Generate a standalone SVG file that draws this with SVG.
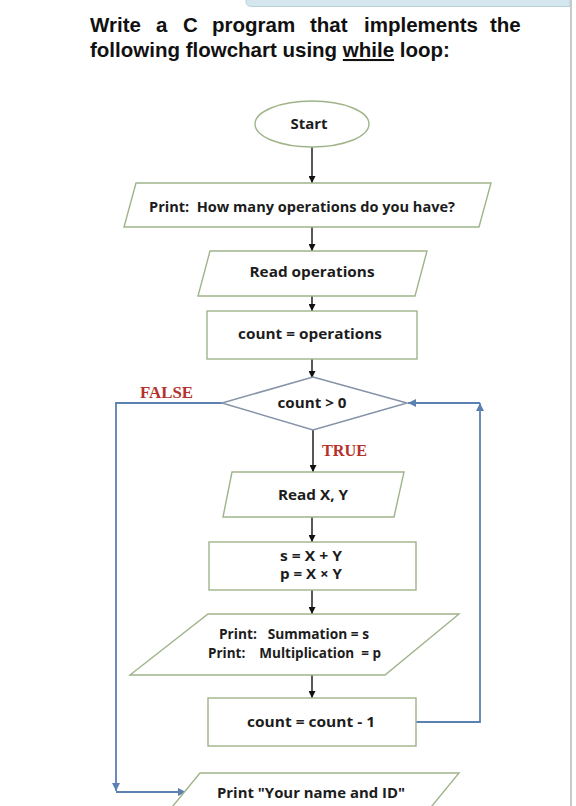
<svg xmlns="http://www.w3.org/2000/svg" width="576" height="806" viewBox="0 0 576 806">
<style>
.node{fill:#ffffff;stroke:#9fb48a;stroke-width:1.4}
.dia{fill:#ffffff;stroke:#8493a8;stroke-width:1.5}
.t{font-family:"Open Sans","Noto Sans",sans-serif;font-weight:700;font-size:15px;fill:#1c1c1c;text-anchor:middle;white-space:pre}
.tl{font-family:"Open Sans","Noto Sans",sans-serif;font-weight:700;font-size:15px;fill:#1c1c1c;white-space:pre}
.lab{font-family:"Liberation Serif","DejaVu Serif",serif;font-weight:bold;font-size:17px;fill:#b5312c}
.title{font-family:"Liberation Sans",Arial,sans-serif;font-weight:bold;font-size:20.5px;fill:#111}
.blk{stroke:#111;stroke-width:1.4;fill:none}
.blu{stroke:#5b80b2;stroke-width:1.8;fill:none}
</style>
<defs>
<marker id="ab" viewBox="0 0 10 10" refX="10" refY="5" markerWidth="7" markerHeight="7" markerUnits="userSpaceOnUse" orient="auto"><path d="M0,0 L10,5 L0,10 z" fill="#111"/></marker>
<marker id="au" viewBox="0 0 10 10" refX="10" refY="5" markerWidth="8" markerHeight="8" markerUnits="userSpaceOnUse" orient="auto"><path d="M0,0 L10,5 L0,10 z" fill="#5b80b2"/></marker>
</defs>
<rect x="0" y="0" width="576" height="806" fill="#ffffff"/>
<path d="M246,-2 H570 V6.5 H252 Q246,6.5 246,1 Z" fill="#d5e7ee" stroke="#b7d0da" stroke-width="1"/>
<line x1="571" y1="0" x2="571" y2="806" stroke="#c9c9c9" stroke-width="2"/>
<g id="title">
<text class="title" y="32"><tspan x="90">Write</tspan><tspan x="156">a</tspan><tspan x="183">C</tspan><tspan x="212">program</tspan><tspan x="310">that</tspan><tspan x="364">implements</tspan><tspan x="490">the</tspan></text>
<text class="title" x="90" y="57">following flowchart using <tspan text-decoration="underline">while</tspan> loop:</text>
</g>
<g id="connectors">
<line class="blk" x1="312" y1="147" x2="312" y2="183" marker-end="url(#ab)"/>
<line class="blk" x1="312" y1="227" x2="312" y2="251" marker-end="url(#ab)"/>
<line class="blk" x1="312" y1="296" x2="312" y2="311" marker-end="url(#ab)"/>
<line class="blk" x1="312" y1="359" x2="312" y2="378" marker-end="url(#ab)"/>
<line class="blk" x1="313" y1="430" x2="313" y2="472" marker-end="url(#ab)"/>
<line class="blk" x1="312" y1="517" x2="312" y2="542" marker-end="url(#ab)"/>
<line class="blk" x1="312" y1="590" x2="312" y2="614" marker-end="url(#ab)"/>
<line class="blk" x1="312" y1="675" x2="312" y2="698" marker-end="url(#ab)"/>
<path class="blu" d="M222,403 H116 V791" marker-end="url(#au)"/>
<path class="blu" d="M116,792 H186" marker-end="url(#au)"/>
<path class="blu" d="M416,722 H480 V403" marker-end="url(#au)"/>
<path class="blu" d="M480,403 H408" marker-end="url(#au)"/>
</g>
<g id="start">
<ellipse class="node" cx="312" cy="124" rx="57" ry="23"/>
<text class="t" x="309" y="129" textLength="37" lengthAdjust="spacingAndGlyphs">Start</text>
</g>
<g id="print-ask">
<polygon class="node" points="136,183 491,183 479,227 124,227"/>
<text class="tl" x="149" y="212" xml:space="preserve" textLength="306" lengthAdjust="spacingAndGlyphs">Print:  How many operations do you have?</text>
</g>
<g id="read-ops">
<polygon class="node" points="210,251 427,251 415,296 198,296"/>
<text class="t" x="312" y="277" textLength="125" lengthAdjust="spacingAndGlyphs">Read operations</text>
</g>
<g id="count-init">
<rect class="node" x="207" y="311" width="210" height="48"/>
<text class="t" x="310" y="339" textLength="144" lengthAdjust="spacingAndGlyphs">count = operations</text>
</g>
<g id="decision">
<polygon class="dia" points="313,377 407,403 313,430 222,403"/>
<text class="t" x="312" y="408" textLength="69" lengthAdjust="spacingAndGlyphs">count &gt; 0</text>
</g>
<text class="lab" x="140" y="398" textLength="53" lengthAdjust="spacingAndGlyphs">FALSE</text>
<text class="lab" x="322" y="456" textLength="45" lengthAdjust="spacingAndGlyphs">TRUE</text>
<g id="read-xy">
<polygon class="node" points="232,472 404,472 394,517 223,517"/>
<text class="t" x="313" y="500" textLength="70" lengthAdjust="spacingAndGlyphs">Read X, Y</text>
</g>
<g id="compute">
<rect class="node" x="209" y="542" width="207" height="48"/>
<text class="t" x="311" y="561" style="font-size:14px" textLength="62" lengthAdjust="spacingAndGlyphs">s = X + Y</text>
<text class="t" x="311" y="579" style="font-size:14px" textLength="62" lengthAdjust="spacingAndGlyphs">p = X × Y</text>
</g>
<g id="print-results">
<polygon class="node" points="208,614 459,614 385,675 130,675"/>
<text class="tl" x="219" y="639" xml:space="preserve" textLength="150" lengthAdjust="spacingAndGlyphs">Print:   Summation = s</text>
<text class="tl" x="208" y="658" xml:space="preserve" textLength="173" lengthAdjust="spacingAndGlyphs">Print:    Multiplication  = p</text>
</g>
<g id="decrement">
<rect class="node" x="208" y="698" width="208" height="48"/>
<text class="t" x="311" y="727" textLength="128" lengthAdjust="spacingAndGlyphs">count = count - 1</text>
</g>
<g id="print-name">
<polygon class="node" points="200,773 459,773 418,823 159,823"/>
<text class="t" x="311" y="798" textLength="188" lengthAdjust="spacingAndGlyphs">Print "Your name and ID"</text>
</g>
</svg>
